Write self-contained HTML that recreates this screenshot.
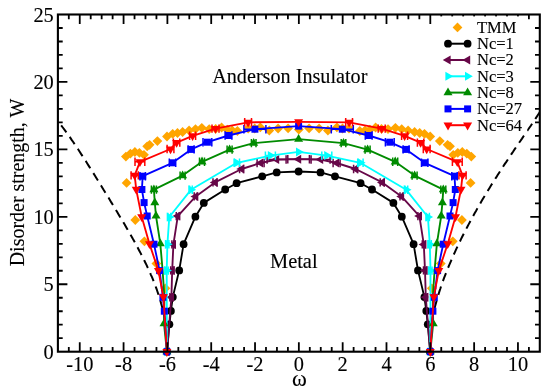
<!DOCTYPE html><html><head><meta charset="utf-8"><style>html,body{margin:0;padding:0;background:#fff;}svg{display:block}text{font-family:"Liberation Serif",serif;fill:#000;stroke:#000;stroke-width:0.12px}</style></head><body>
<svg width="550" height="392" viewBox="0 0 550 392">
<rect width="550" height="392" fill="#fff"/>
<defs><clipPath id="cp"><rect x="57.9" y="14.5" width="481.9" height="337.2"/></clipPath></defs>
<polyline points="61.0,125.1 62.8,127.5 64.6,129.9 66.4,132.3 68.1,134.8 69.9,137.2 71.5,139.6 73.2,142.0 74.8,144.4 76.5,146.8 78.1,149.2 79.7,151.7 81.2,154.1 82.8,156.5 84.3,158.9 85.9,161.3 87.4,163.7 88.9,166.1 90.5,168.6 92.0,171.0 93.5,173.4 95.0,175.8 96.5,178.2 98.0,180.6 99.5,183.1 101.0,185.5 102.5,187.9 103.9,190.3 105.4,192.7 106.9,195.1 108.4,197.5 109.9,200.0 111.3,202.4 112.8,204.8 114.3,207.2 115.7,209.6 117.2,212.0 118.6,214.4 120.1,216.9 121.5,219.3 123.0,221.7 124.4,224.1 125.8,226.5 127.2,228.9 128.6,231.3 130.0,233.8 131.4,236.2 132.7,238.6 134.1,241.0 135.4,243.4 136.7,245.8 138.0,248.2 139.3,250.7 140.6,253.1 141.8,255.5 143.0,257.9 144.2,260.3 145.4,262.7 146.6,265.1 147.7,267.6 148.8,270.0 149.9,272.4 150.9,274.8 152.0,277.2 153.0,279.6 153.9,282.0 154.9,284.5 155.8,286.9 156.7,289.3 157.5,291.7 158.3,294.1 159.1,296.5 159.9,299.0 160.6,301.4 161.2,303.8 161.9,306.2 162.5,308.6 163.1,311.0 163.6,313.4 164.1,315.9 164.5,318.3 165.0,320.7 165.4,323.1 165.7,325.5 166.0,327.9 166.3,330.3 166.6,332.8 166.8,335.2 167.0,337.6 167.1,340.0 167.4,351.7" fill="none" stroke="#000" stroke-width="2.0" stroke-dasharray="8.7,5.7" stroke-dashoffset="14.10" clip-path="url(#cp)"/>
<polyline points="544.4,105.0 542.8,107.6 541.1,110.2 539.4,112.8 537.7,115.3 536.0,117.9 534.3,120.5 532.5,123.1 530.8,125.7 529.0,128.3 527.3,130.8 525.5,133.4 523.7,136.0 522.0,138.6 520.2,141.2 518.4,143.8 516.7,146.3 514.9,148.9 513.2,151.5 511.4,154.1 509.7,156.7 508.0,159.3 506.3,161.9 504.5,164.4 502.8,167.0 501.2,169.6 499.5,172.2 497.8,174.8 496.2,177.4 494.5,179.9 492.9,182.5 491.3,185.1 489.7,187.7 488.1,190.3 486.5,192.9 485.0,195.4 483.4,198.0 481.9,200.6 480.4,203.2 478.9,205.8 477.4,208.4 476.0,211.0 474.5,213.5 473.1,216.1 471.7,218.7 470.3,221.3 468.9,223.9 467.5,226.5 466.2,229.0 464.8,231.6 463.5,234.2 462.2,236.8 460.9,239.4 459.7,242.0 458.4,244.6 457.2,247.1 456.0,249.7 454.8,252.3 453.6,254.9 452.5,257.5 451.4,260.1 450.3,262.6 449.2,265.2 448.1,267.8 447.0,270.4 446.0,273.0 445.0,275.6 444.0,278.1 443.1,280.7 442.1,283.3 441.2,285.9 440.4,288.5 439.5,291.1 438.7,293.7 437.9,296.2 437.1,298.8 436.4,301.4 435.7,304.0 435.0,306.6 434.4,309.2 433.8,311.7 433.2,314.3 432.7,316.9 432.3,319.5 431.8,322.1 431.4,324.7 431.1,327.2 430.8,329.8 430.6,332.4 430.4,335.0 430.3,351.7" fill="none" stroke="#000" stroke-width="2.0" stroke-dasharray="8.7,5.7" stroke-dashoffset="6.41" clip-path="url(#cp)"/>
<polygon points="165.4,283.4 170.3,288.3 165.4,293.2 160.5,288.3" fill="#ffa500"/>
<polygon points="156.4,258.7 161.3,263.6 156.4,268.5 151.5,263.6" fill="#ffa500"/>
<polygon points="144.4,236.4 149.3,241.3 144.4,246.2 139.5,241.3" fill="#ffa500"/>
<polygon points="135.3,215.1 140.2,220.0 135.3,224.9 130.4,220.0" fill="#ffa500"/>
<polygon points="126.6,178.0 131.5,182.9 126.6,187.8 121.7,182.9" fill="#ffa500"/>
<polygon points="125.9,151.7 130.8,156.6 125.9,161.5 121.0,156.6" fill="#ffa500"/>
<polygon points="130.4,148.7 135.3,153.6 130.4,158.5 125.5,153.6" fill="#ffa500"/>
<polygon points="134.9,147.1 139.8,152.0 134.9,156.9 130.0,152.0" fill="#ffa500"/>
<polygon points="139.4,147.9 144.3,152.8 139.4,157.7 134.5,152.8" fill="#ffa500"/>
<polygon points="144.0,149.9 148.9,154.8 144.0,159.7 139.1,154.8" fill="#ffa500"/>
<polygon points="147.2,141.4 152.1,146.3 147.2,151.2 142.3,146.3" fill="#ffa500"/>
<polygon points="149.6,139.9 154.5,144.8 149.6,149.7 144.7,144.8" fill="#ffa500"/>
<polygon points="157.4,136.2 162.3,141.1 157.4,146.0 152.5,141.1" fill="#ffa500"/>
<polygon points="167.0,131.6 171.9,136.5 167.0,141.4 162.1,136.5" fill="#ffa500"/>
<polygon points="172.7,128.9 177.6,133.8 172.7,138.7 167.8,133.8" fill="#ffa500"/>
<polygon points="177.5,128.1 182.4,133.0 177.5,137.9 172.6,133.0" fill="#ffa500"/>
<polygon points="182.6,127.1 187.5,132.0 182.6,136.9 177.7,132.0" fill="#ffa500"/>
<polygon points="189.1,125.5 194.0,130.4 189.1,135.3 184.2,130.4" fill="#ffa500"/>
<polygon points="195.5,124.2 200.4,129.1 195.5,134.0 190.6,129.1" fill="#ffa500"/>
<polygon points="201.8,122.9 206.7,127.8 201.8,132.7 196.9,127.8" fill="#ffa500"/>
<polygon points="209.2,124.2 214.1,129.1 209.2,134.0 204.3,129.1" fill="#ffa500"/>
<polygon points="215.7,123.9 220.6,128.8 215.7,133.7 210.8,128.8" fill="#ffa500"/>
<polygon points="221.6,122.6 226.5,127.5 221.6,132.4 216.7,127.5" fill="#ffa500"/>
<polygon points="227.3,124.8 232.2,129.7 227.3,134.6 222.4,129.7" fill="#ffa500"/>
<polygon points="232.2,125.5 237.1,130.4 232.2,135.3 227.3,130.4" fill="#ffa500"/>
<polygon points="237.4,126.1 242.3,131.0 237.4,135.9 232.5,131.0" fill="#ffa500"/>
<polygon points="248.2,123.6 253.1,128.5 248.2,133.4 243.3,128.5" fill="#ffa500"/>
<polygon points="254.7,123.6 259.6,128.5 254.7,133.4 249.8,128.5" fill="#ffa500"/>
<polygon points="260.3,122.4 265.2,127.3 260.3,132.2 255.4,127.3" fill="#ffa500"/>
<polygon points="269.3,125.6 274.2,130.5 269.3,135.4 264.4,130.5" fill="#ffa500"/>
<polygon points="278.1,123.6 283.0,128.5 278.1,133.4 273.2,128.5" fill="#ffa500"/>
<polygon points="288.1,123.4 293.0,128.3 288.1,133.2 283.2,128.3" fill="#ffa500"/>
<polygon points="298.8,124.6 303.7,129.5 298.8,134.4 293.9,129.5" fill="#ffa500"/>
<polygon points="309.1,123.4 314.0,128.3 309.1,133.2 304.2,128.3" fill="#ffa500"/>
<polygon points="319.1,123.6 324.0,128.5 319.1,133.4 314.2,128.5" fill="#ffa500"/>
<polygon points="327.9,125.6 332.8,130.5 327.9,135.4 323.0,130.5" fill="#ffa500"/>
<polygon points="336.9,122.4 341.8,127.3 336.9,132.2 332.0,127.3" fill="#ffa500"/>
<polygon points="342.5,123.6 347.4,128.5 342.5,133.4 337.6,128.5" fill="#ffa500"/>
<polygon points="349.0,123.6 353.9,128.5 349.0,133.4 344.1,128.5" fill="#ffa500"/>
<polygon points="359.8,126.1 364.7,131.0 359.8,135.9 354.9,131.0" fill="#ffa500"/>
<polygon points="365.0,125.5 369.9,130.4 365.0,135.3 360.1,130.4" fill="#ffa500"/>
<polygon points="369.9,124.8 374.8,129.7 369.9,134.6 365.0,129.7" fill="#ffa500"/>
<polygon points="375.6,122.6 380.5,127.5 375.6,132.4 370.7,127.5" fill="#ffa500"/>
<polygon points="381.5,123.9 386.4,128.8 381.5,133.7 376.6,128.8" fill="#ffa500"/>
<polygon points="388.0,124.2 392.9,129.1 388.0,134.0 383.1,129.1" fill="#ffa500"/>
<polygon points="395.4,122.9 400.3,127.8 395.4,132.7 390.5,127.8" fill="#ffa500"/>
<polygon points="401.7,124.2 406.6,129.1 401.7,134.0 396.8,129.1" fill="#ffa500"/>
<polygon points="408.1,125.5 413.0,130.4 408.1,135.3 403.2,130.4" fill="#ffa500"/>
<polygon points="414.6,127.1 419.5,132.0 414.6,136.9 409.7,132.0" fill="#ffa500"/>
<polygon points="419.7,128.1 424.6,133.0 419.7,137.9 414.8,133.0" fill="#ffa500"/>
<polygon points="424.5,128.9 429.4,133.8 424.5,138.7 419.6,133.8" fill="#ffa500"/>
<polygon points="430.2,131.6 435.1,136.5 430.2,141.4 425.3,136.5" fill="#ffa500"/>
<polygon points="439.8,136.2 444.7,141.1 439.8,146.0 434.9,141.1" fill="#ffa500"/>
<polygon points="447.6,139.9 452.5,144.8 447.6,149.7 442.7,144.8" fill="#ffa500"/>
<polygon points="450.0,141.4 454.9,146.3 450.0,151.2 445.1,146.3" fill="#ffa500"/>
<polygon points="453.2,149.9 458.1,154.8 453.2,159.7 448.3,154.8" fill="#ffa500"/>
<polygon points="457.8,147.9 462.7,152.8 457.8,157.7 452.9,152.8" fill="#ffa500"/>
<polygon points="462.3,147.1 467.2,152.0 462.3,156.9 457.4,152.0" fill="#ffa500"/>
<polygon points="466.8,148.7 471.7,153.6 466.8,158.5 461.9,153.6" fill="#ffa500"/>
<polygon points="471.3,151.7 476.2,156.6 471.3,161.5 466.4,156.6" fill="#ffa500"/>
<polygon points="470.6,178.0 475.5,182.9 470.6,187.8 465.7,182.9" fill="#ffa500"/>
<polygon points="461.9,215.1 466.8,220.0 461.9,224.9 457.0,220.0" fill="#ffa500"/>
<polygon points="452.8,236.4 457.7,241.3 452.8,246.2 447.9,241.3" fill="#ffa500"/>
<polygon points="440.8,258.7 445.7,263.6 440.8,268.5 435.9,263.6" fill="#ffa500"/>
<polygon points="431.8,283.4 436.7,288.3 431.8,293.2 426.9,288.3" fill="#ffa500"/>
<polyline points="167.0,351.7 169.4,324.3 170.9,310.9 172.8,297.1 179.2,270.4 183.6,244.2 195.4,216.7 203.8,202.9 225.2,189.5 236.6,183.2 262.2,176.3 276.7,172.4 298.6,171.5 320.5,172.4 335.0,176.3 360.6,183.2 372.0,189.5 393.4,202.9 401.8,216.7 413.6,244.2 418.0,270.4 424.4,297.1 426.3,310.9 427.8,324.3 430.2,351.7" fill="none" stroke="#000" stroke-width="1.85" stroke-linejoin="round"/>
<circle cx="167.0" cy="351.7" r="3.9" fill="#000"/>
<circle cx="169.4" cy="324.3" r="3.9" fill="#000"/>
<circle cx="170.9" cy="310.9" r="3.9" fill="#000"/>
<circle cx="172.8" cy="297.1" r="3.9" fill="#000"/>
<circle cx="179.2" cy="270.4" r="3.9" fill="#000"/>
<circle cx="183.6" cy="244.2" r="3.9" fill="#000"/>
<circle cx="195.4" cy="216.7" r="3.9" fill="#000"/>
<circle cx="203.8" cy="202.9" r="3.9" fill="#000"/>
<circle cx="225.2" cy="189.5" r="3.9" fill="#000"/>
<circle cx="236.6" cy="183.2" r="3.9" fill="#000"/>
<circle cx="262.2" cy="176.3" r="3.9" fill="#000"/>
<circle cx="276.7" cy="172.4" r="3.9" fill="#000"/>
<circle cx="298.6" cy="171.5" r="3.9" fill="#000"/>
<circle cx="320.5" cy="172.4" r="3.9" fill="#000"/>
<circle cx="335.0" cy="176.3" r="3.9" fill="#000"/>
<circle cx="360.6" cy="183.2" r="3.9" fill="#000"/>
<circle cx="372.0" cy="189.5" r="3.9" fill="#000"/>
<circle cx="393.4" cy="202.9" r="3.9" fill="#000"/>
<circle cx="401.8" cy="216.7" r="3.9" fill="#000"/>
<circle cx="413.6" cy="244.2" r="3.9" fill="#000"/>
<circle cx="418.0" cy="270.4" r="3.9" fill="#000"/>
<circle cx="424.4" cy="297.1" r="3.9" fill="#000"/>
<circle cx="426.3" cy="310.9" r="3.9" fill="#000"/>
<circle cx="427.8" cy="324.3" r="3.9" fill="#000"/>
<circle cx="430.2" cy="351.7" r="3.9" fill="#000"/>
<polyline points="167.0,351.7 171.4,297.3 172.2,270.4 173.4,244.4 177.8,216.1 195.7,196.4 215.0,182.4 241.6,169.0 260.6,163.0 276.6,159.5 298.6,159.2 320.6,159.5 336.6,163.0 355.6,169.0 382.2,182.4 401.5,196.4 419.4,216.1 423.8,244.4 425.0,270.4 425.8,297.3 430.2,351.7" fill="none" stroke="#670748" stroke-width="1.85" stroke-linejoin="round"/>
<path d="M169.9 297.3H172.9M169.9 293.1v8.4M172.9 293.1v8.4M170.7 270.4H173.7M170.7 266.2v8.4M173.7 266.2v8.4M171.9 244.4H174.9M171.9 240.2v8.4M174.9 240.2v8.4M176.3 216.1H179.3M176.3 211.9v8.4M179.3 211.9v8.4M194.2 196.4H197.2M194.2 192.2v8.4M197.2 192.2v8.4M213.0 182.4H217.0M213.0 178.2v8.4M217.0 178.2v8.4M239.6 169.0H243.6M239.6 164.8v8.4M243.6 164.8v8.4M257.1 163.0H264.1M257.1 158.8v8.4M264.1 158.8v8.4M267.1 159.5H286.1M267.1 155.3v8.4M286.1 155.3v8.4M287.8 159.2H309.4M287.8 155.0v8.4M309.4 155.0v8.4M311.1 159.5H330.1M311.1 155.3v8.4M330.1 155.3v8.4M333.1 163.0H340.1M333.1 158.8v8.4M340.1 158.8v8.4M353.6 169.0H357.6M353.6 164.8v8.4M357.6 164.8v8.4M380.2 182.4H384.2M380.2 178.2v8.4M384.2 178.2v8.4M400.0 196.4H403.0M400.0 192.2v8.4M403.0 192.2v8.4M417.9 216.1H420.9M417.9 211.9v8.4M420.9 211.9v8.4M422.3 244.4H425.3M422.3 240.2v8.4M425.3 240.2v8.4M423.5 270.4H426.5M423.5 266.2v8.4M426.5 266.2v8.4M424.3 297.3H427.3M424.3 293.1v8.4M427.3 293.1v8.4" stroke="#670748" stroke-width="1.5" fill="none"/>
<polygon points="161.8,351.7 169.6,347.2 169.6,356.2" fill="#670748"/>
<polygon points="166.2,297.3 174.0,292.8 174.0,301.8" fill="#670748"/>
<polygon points="167.0,270.4 174.8,265.9 174.8,274.9" fill="#670748"/>
<polygon points="168.2,244.4 176.0,239.9 176.0,248.9" fill="#670748"/>
<polygon points="172.6,216.1 180.4,211.6 180.4,220.6" fill="#670748"/>
<polygon points="190.5,196.4 198.3,191.9 198.3,200.9" fill="#670748"/>
<polygon points="209.8,182.4 217.6,177.9 217.6,186.9" fill="#670748"/>
<polygon points="236.4,169.0 244.2,164.5 244.2,173.5" fill="#670748"/>
<polygon points="255.4,163.0 263.2,158.5 263.2,167.5" fill="#670748"/>
<polygon points="271.4,159.5 279.2,155.0 279.2,164.0" fill="#670748"/>
<polygon points="293.4,159.2 301.2,154.7 301.2,163.7" fill="#670748"/>
<polygon points="315.4,159.5 323.2,155.0 323.2,164.0" fill="#670748"/>
<polygon points="331.4,163.0 339.2,158.5 339.2,167.5" fill="#670748"/>
<polygon points="350.4,169.0 358.2,164.5 358.2,173.5" fill="#670748"/>
<polygon points="377.0,182.4 384.8,177.9 384.8,186.9" fill="#670748"/>
<polygon points="396.3,196.4 404.1,191.9 404.1,200.9" fill="#670748"/>
<polygon points="414.2,216.1 422.0,211.6 422.0,220.6" fill="#670748"/>
<polygon points="418.6,244.4 426.4,239.9 426.4,248.9" fill="#670748"/>
<polygon points="419.8,270.4 427.6,265.9 427.6,274.9" fill="#670748"/>
<polygon points="420.6,297.3 428.4,292.8 428.4,301.8" fill="#670748"/>
<polygon points="425.0,351.7 432.8,347.2 432.8,356.2" fill="#670748"/>
<polyline points="166.9,351.7 166.7,270.6 167.4,244.2 169.3,217.0 190.9,189.8 236.8,162.8 270.4,155.6 298.6,151.9 326.8,155.6 360.4,162.8 406.3,189.8 427.9,217.0 429.8,244.2 430.5,270.6 430.3,351.7" fill="none" stroke="#00ffff" stroke-width="1.85" stroke-linejoin="round"/>
<path d="M165.2 270.6H168.2M165.2 266.4v8.4M168.2 266.4v8.4M165.9 244.2H168.9M165.9 240.0v8.4M168.9 240.0v8.4M167.8 217.0H170.8M167.8 212.8v8.4M170.8 212.8v8.4M189.5 189.8H192.3M189.5 185.6v8.4M192.3 185.6v8.4M234.1 162.8H239.5M234.1 158.6v8.4M239.5 158.6v8.4M265.4 155.6H275.4M265.4 151.4v8.4M275.4 151.4v8.4M321.8 155.6H331.8M321.8 151.4v8.4M331.8 151.4v8.4M357.7 162.8H363.1M357.7 158.6v8.4M363.1 158.6v8.4M404.9 189.8H407.7M404.9 185.6v8.4M407.7 185.6v8.4M426.4 217.0H429.4M426.4 212.8v8.4M429.4 212.8v8.4M428.3 244.2H431.3M428.3 240.0v8.4M431.3 240.0v8.4M429.0 270.6H432.0M429.0 266.4v8.4M432.0 266.4v8.4" stroke="#00ffff" stroke-width="1.5" fill="none"/>
<polygon points="172.1,351.7 164.3,347.2 164.3,356.2" fill="#00ffff"/>
<polygon points="171.9,270.6 164.1,266.1 164.1,275.1" fill="#00ffff"/>
<polygon points="172.6,244.2 164.8,239.7 164.8,248.7" fill="#00ffff"/>
<polygon points="174.5,217.0 166.7,212.5 166.7,221.5" fill="#00ffff"/>
<polygon points="196.1,189.8 188.3,185.3 188.3,194.3" fill="#00ffff"/>
<polygon points="242.0,162.8 234.2,158.3 234.2,167.3" fill="#00ffff"/>
<polygon points="275.6,155.6 267.8,151.1 267.8,160.1" fill="#00ffff"/>
<polygon points="303.8,151.9 296.0,147.4 296.0,156.4" fill="#00ffff"/>
<polygon points="332.0,155.6 324.2,151.1 324.2,160.1" fill="#00ffff"/>
<polygon points="365.6,162.8 357.8,158.3 357.8,167.3" fill="#00ffff"/>
<polygon points="411.5,189.8 403.7,185.3 403.7,194.3" fill="#00ffff"/>
<polygon points="433.1,217.0 425.3,212.5 425.3,221.5" fill="#00ffff"/>
<polygon points="435.0,244.2 427.2,239.7 427.2,248.7" fill="#00ffff"/>
<polygon points="435.7,270.6 427.9,266.1 427.9,275.1" fill="#00ffff"/>
<polygon points="435.5,351.7 427.7,347.2 427.7,356.2" fill="#00ffff"/>
<polyline points="166.9,351.7 164.0,323.6 164.4,297.0 162.6,270.2 160.3,243.6 156.0,216.0 154.8,202.6 153.9,189.6 182.6,175.6 202.0,161.8 229.6,149.6 253.7,143.1 298.6,139.1 343.5,143.1 367.6,149.6 395.2,161.8 414.6,175.6 443.3,189.6 442.4,202.6 441.2,216.0 436.9,243.6 434.6,270.2 432.8,297.0 433.2,323.6 430.3,351.7" fill="none" stroke="#008b00" stroke-width="1.85" stroke-linejoin="round"/>
<path d="M151.4 189.6H156.4M151.4 185.4v8.4M156.4 185.4v8.4M180.1 175.6H185.1M180.1 171.4v8.4M185.1 171.4v8.4M199.5 161.8H204.5M199.5 157.6v8.4M204.5 157.6v8.4M227.1 149.6H232.1M227.1 145.4v8.4M232.1 145.4v8.4M251.4 143.1H256.0M251.4 138.9v8.4M256.0 138.9v8.4M341.2 143.1H345.8M341.2 138.9v8.4M345.8 138.9v8.4M365.1 149.6H370.1M365.1 145.4v8.4M370.1 145.4v8.4M392.7 161.8H397.7M392.7 157.6v8.4M397.7 157.6v8.4M412.1 175.6H417.1M412.1 171.4v8.4M417.1 171.4v8.4M440.8 189.6H445.8M440.8 185.4v8.4M445.8 185.4v8.4" stroke="#008b00" stroke-width="1.5" fill="none"/>
<polygon points="166.9,346.5 162.4,354.3 171.4,354.3" fill="#008b00"/>
<polygon points="164.0,318.4 159.5,326.2 168.5,326.2" fill="#008b00"/>
<polygon points="160.3,238.4 155.8,246.2 164.8,246.2" fill="#008b00"/>
<polygon points="156.0,210.8 151.5,218.6 160.5,218.6" fill="#008b00"/>
<polygon points="154.8,197.4 150.3,205.2 159.3,205.2" fill="#008b00"/>
<polygon points="153.9,184.4 149.4,192.2 158.4,192.2" fill="#008b00"/>
<polygon points="182.6,170.4 178.1,178.2 187.1,178.2" fill="#008b00"/>
<polygon points="202.0,156.6 197.5,164.4 206.5,164.4" fill="#008b00"/>
<polygon points="229.6,144.4 225.1,152.2 234.1,152.2" fill="#008b00"/>
<polygon points="253.7,137.9 249.2,145.7 258.2,145.7" fill="#008b00"/>
<polygon points="298.6,133.9 294.1,141.7 303.1,141.7" fill="#008b00"/>
<polygon points="343.5,137.9 339.0,145.7 348.0,145.7" fill="#008b00"/>
<polygon points="367.6,144.4 363.1,152.2 372.1,152.2" fill="#008b00"/>
<polygon points="395.2,156.6 390.7,164.4 399.7,164.4" fill="#008b00"/>
<polygon points="414.6,170.4 410.1,178.2 419.1,178.2" fill="#008b00"/>
<polygon points="443.3,184.4 438.8,192.2 447.8,192.2" fill="#008b00"/>
<polygon points="442.4,197.4 437.9,205.2 446.9,205.2" fill="#008b00"/>
<polygon points="441.2,210.8 436.7,218.6 445.7,218.6" fill="#008b00"/>
<polygon points="436.9,238.4 432.4,246.2 441.4,246.2" fill="#008b00"/>
<polygon points="433.2,318.4 428.7,326.2 437.7,326.2" fill="#008b00"/>
<polygon points="430.3,346.5 425.8,354.3 434.8,354.3" fill="#008b00"/>
<polyline points="166.9,351.7 164.3,311.2 162.9,297.3 159.6,270.6 154.0,244.2 147.2,216.0 144.1,202.6 141.9,189.5 142.7,176.2 172.5,162.8 191.1,149.4 207.4,142.2 228.5,135.5 254.9,129.2 298.6,126.1 342.3,129.2 368.7,135.5 389.8,142.2 406.1,149.4 424.7,162.8 454.5,176.2 455.3,189.5 453.1,202.6 450.0,216.0 443.2,244.2 437.6,270.6 434.3,297.3 432.9,311.2 430.3,351.7" fill="none" stroke="#0000ff" stroke-width="1.85" stroke-linejoin="round"/>
<path d="M140.0 176.2H145.4M140.0 172.0v8.4M145.4 172.0v8.4M169.3 162.8H175.7M169.3 158.6v8.4M175.7 158.6v8.4M188.1 149.4H194.1M188.1 145.2v8.4M194.1 145.2v8.4M203.0 142.2H211.8M203.0 138.0v8.4M211.8 138.0v8.4M225.1 135.5H231.9M225.1 131.3v8.4M231.9 131.3v8.4M243.9 129.2H265.9M243.9 125.0v8.4M265.9 125.0v8.4M331.3 129.2H353.3M331.3 125.0v8.4M353.3 125.0v8.4M365.3 135.5H372.1M365.3 131.3v8.4M372.1 131.3v8.4M385.4 142.2H394.2M385.4 138.0v8.4M394.2 138.0v8.4M403.1 149.4H409.1M403.1 145.2v8.4M409.1 145.2v8.4M421.5 162.8H427.9M421.5 158.6v8.4M427.9 158.6v8.4M451.8 176.2H457.2M451.8 172.0v8.4M457.2 172.0v8.4" stroke="#0000ff" stroke-width="1.5" fill="none"/>
<rect x="163.4" y="348.2" width="7" height="7" fill="#0000ff"/>
<rect x="160.8" y="307.7" width="7" height="7" fill="#0000ff"/>
<rect x="159.4" y="293.8" width="7" height="7" fill="#0000ff"/>
<rect x="156.1" y="267.1" width="7" height="7" fill="#0000ff"/>
<rect x="150.5" y="240.7" width="7" height="7" fill="#0000ff"/>
<rect x="143.7" y="212.5" width="7" height="7" fill="#0000ff"/>
<rect x="140.6" y="199.1" width="7" height="7" fill="#0000ff"/>
<rect x="138.4" y="186.0" width="7" height="7" fill="#0000ff"/>
<rect x="139.2" y="172.7" width="7" height="7" fill="#0000ff"/>
<rect x="169.0" y="159.3" width="7" height="7" fill="#0000ff"/>
<rect x="187.6" y="145.9" width="7" height="7" fill="#0000ff"/>
<rect x="203.9" y="138.7" width="7" height="7" fill="#0000ff"/>
<rect x="225.0" y="132.0" width="7" height="7" fill="#0000ff"/>
<rect x="251.4" y="125.7" width="7" height="7" fill="#0000ff"/>
<rect x="295.1" y="122.6" width="7" height="7" fill="#0000ff"/>
<rect x="338.8" y="125.7" width="7" height="7" fill="#0000ff"/>
<rect x="365.2" y="132.0" width="7" height="7" fill="#0000ff"/>
<rect x="386.3" y="138.7" width="7" height="7" fill="#0000ff"/>
<rect x="402.6" y="145.9" width="7" height="7" fill="#0000ff"/>
<rect x="421.2" y="159.3" width="7" height="7" fill="#0000ff"/>
<rect x="451.0" y="172.7" width="7" height="7" fill="#0000ff"/>
<rect x="451.8" y="186.0" width="7" height="7" fill="#0000ff"/>
<rect x="449.6" y="199.1" width="7" height="7" fill="#0000ff"/>
<rect x="446.5" y="212.5" width="7" height="7" fill="#0000ff"/>
<rect x="439.7" y="240.7" width="7" height="7" fill="#0000ff"/>
<rect x="434.1" y="267.1" width="7" height="7" fill="#0000ff"/>
<rect x="430.8" y="293.8" width="7" height="7" fill="#0000ff"/>
<rect x="429.4" y="307.7" width="7" height="7" fill="#0000ff"/>
<rect x="426.8" y="348.2" width="7" height="7" fill="#0000ff"/>
<polyline points="166.9,351.7 163.4,296.8 158.4,270.6 149.5,243.9 141.7,216.8 136.2,189.4 134.7,175.4 139.9,161.8 170.5,149.0 176.6,142.6 192.6,135.8 215.5,128.6 248.1,122.3 298.6,121.8 349.1,122.3 381.7,128.6 404.6,135.8 420.6,142.6 426.7,149.0 457.3,161.8 462.5,175.4 461.0,189.4 455.5,216.8 447.7,243.9 438.8,270.6 433.8,296.8 430.3,351.7" fill="none" stroke="#ff0000" stroke-width="1.85" stroke-linejoin="round"/>
<path d="M131.1 175.4H138.3M131.1 171.2v8.4M138.3 171.2v8.4M135.0 161.8H144.8M135.0 157.6v8.4M144.8 157.6v8.4M167.1 149.0H173.9M167.1 144.8v8.4M173.9 144.8v8.4M173.4 142.6H179.8M173.4 138.4v8.4M179.8 138.4v8.4M189.6 135.8H195.6M189.6 131.6v8.4M195.6 131.6v8.4M212.0 128.6H219.0M212.0 124.4v8.4M219.0 124.4v8.4M244.7 122.3H251.5M244.7 118.1v8.4M251.5 118.1v8.4M345.7 122.3H352.5M345.7 118.1v8.4M352.5 118.1v8.4M378.2 128.6H385.2M378.2 124.4v8.4M385.2 124.4v8.4M401.6 135.8H407.6M401.6 131.6v8.4M407.6 131.6v8.4M417.4 142.6H423.8M417.4 138.4v8.4M423.8 138.4v8.4M423.3 149.0H430.1M423.3 144.8v8.4M430.1 144.8v8.4M452.4 161.8H462.2M452.4 157.6v8.4M462.2 157.6v8.4M458.9 175.4H466.1M458.9 171.2v8.4M466.1 171.2v8.4" stroke="#ff0000" stroke-width="1.5" fill="none"/>
<polygon points="166.9,356.9 162.4,349.1 171.4,349.1" fill="#ff0000"/>
<polygon points="163.4,302.0 158.9,294.2 167.9,294.2" fill="#ff0000"/>
<polygon points="158.4,275.8 153.9,268.0 162.9,268.0" fill="#ff0000"/>
<polygon points="149.5,249.1 145.0,241.3 154.0,241.3" fill="#ff0000"/>
<polygon points="141.7,222.0 137.2,214.2 146.2,214.2" fill="#ff0000"/>
<polygon points="136.2,194.6 131.7,186.8 140.7,186.8" fill="#ff0000"/>
<polygon points="134.7,180.6 130.2,172.8 139.2,172.8" fill="#ff0000"/>
<polygon points="139.9,167.0 135.4,159.2 144.4,159.2" fill="#ff0000"/>
<polygon points="170.5,154.2 166.0,146.4 175.0,146.4" fill="#ff0000"/>
<polygon points="176.6,147.8 172.1,140.0 181.1,140.0" fill="#ff0000"/>
<polygon points="192.6,141.0 188.1,133.2 197.1,133.2" fill="#ff0000"/>
<polygon points="215.5,133.8 211.0,126.0 220.0,126.0" fill="#ff0000"/>
<polygon points="248.1,127.5 243.6,119.7 252.6,119.7" fill="#ff0000"/>
<polygon points="298.6,127.0 294.1,119.2 303.1,119.2" fill="#ff0000"/>
<polygon points="349.1,127.5 344.6,119.7 353.6,119.7" fill="#ff0000"/>
<polygon points="381.7,133.8 377.2,126.0 386.2,126.0" fill="#ff0000"/>
<polygon points="404.6,141.0 400.1,133.2 409.1,133.2" fill="#ff0000"/>
<polygon points="420.6,147.8 416.1,140.0 425.1,140.0" fill="#ff0000"/>
<polygon points="426.7,154.2 422.2,146.4 431.2,146.4" fill="#ff0000"/>
<polygon points="457.3,167.0 452.8,159.2 461.8,159.2" fill="#ff0000"/>
<polygon points="462.5,180.6 458.0,172.8 467.0,172.8" fill="#ff0000"/>
<polygon points="461.0,194.6 456.5,186.8 465.5,186.8" fill="#ff0000"/>
<polygon points="455.5,222.0 451.0,214.2 460.0,214.2" fill="#ff0000"/>
<polygon points="447.7,249.1 443.2,241.3 452.2,241.3" fill="#ff0000"/>
<polygon points="438.8,275.8 434.3,268.0 443.3,268.0" fill="#ff0000"/>
<polygon points="433.8,302.0 429.3,294.2 438.3,294.2" fill="#ff0000"/>
<polygon points="430.3,356.9 425.8,349.1 434.8,349.1" fill="#ff0000"/>
<rect x="57.9" y="14.5" width="481.9" height="337.2" fill="none" stroke="#000" stroke-width="2.1"/>
<path d="M68.80 351.7v-4.8M68.80 14.5v4.8M79.75 351.7v-9.5M79.75 14.5v9.5M90.71 351.7v-4.8M90.71 14.5v4.8M101.66 351.7v-4.8M101.66 14.5v4.8M112.62 351.7v-4.8M112.62 14.5v4.8M123.57 351.7v-9.5M123.57 14.5v9.5M134.53 351.7v-4.8M134.53 14.5v4.8M145.48 351.7v-4.8M145.48 14.5v4.8M156.44 351.7v-4.8M156.44 14.5v4.8M167.39 351.7v-9.5M167.39 14.5v9.5M178.35 351.7v-4.8M178.35 14.5v4.8M189.30 351.7v-4.8M189.30 14.5v4.8M200.26 351.7v-4.8M200.26 14.5v4.8M211.21 351.7v-9.5M211.21 14.5v9.5M222.17 351.7v-4.8M222.17 14.5v4.8M233.12 351.7v-4.8M233.12 14.5v4.8M244.08 351.7v-4.8M244.08 14.5v4.8M255.03 351.7v-9.5M255.03 14.5v9.5M265.99 351.7v-4.8M265.99 14.5v4.8M276.94 351.7v-4.8M276.94 14.5v4.8M287.90 351.7v-4.8M287.90 14.5v4.8M298.85 351.7v-9.5M298.85 14.5v9.5M309.81 351.7v-4.8M309.81 14.5v4.8M320.76 351.7v-4.8M320.76 14.5v4.8M331.72 351.7v-4.8M331.72 14.5v4.8M342.67 351.7v-9.5M342.67 14.5v9.5M353.62 351.7v-4.8M353.62 14.5v4.8M364.58 351.7v-4.8M364.58 14.5v4.8M375.54 351.7v-4.8M375.54 14.5v4.8M386.49 351.7v-9.5M386.49 14.5v9.5M397.45 351.7v-4.8M397.45 14.5v4.8M408.40 351.7v-4.8M408.40 14.5v4.8M419.36 351.7v-4.8M419.36 14.5v4.8M430.31 351.7v-9.5M430.31 14.5v9.5M441.26 351.7v-4.8M441.26 14.5v4.8M452.22 351.7v-4.8M452.22 14.5v4.8M463.18 351.7v-4.8M463.18 14.5v4.8M474.13 351.7v-9.5M474.13 14.5v9.5M485.09 351.7v-4.8M485.09 14.5v4.8M496.04 351.7v-4.8M496.04 14.5v4.8M507.00 351.7v-4.8M507.00 14.5v4.8M517.95 351.7v-9.5M517.95 14.5v9.5M528.90 351.7v-4.8M528.90 14.5v4.8M57.9 338.21h4.8M539.8 338.21h-4.8M57.9 324.72h4.8M539.8 324.72h-4.8M57.9 311.24h4.8M539.8 311.24h-4.8M57.9 297.75h4.8M539.8 297.75h-4.8M57.9 284.26h9.5M539.8 284.26h-9.5M57.9 270.77h4.8M539.8 270.77h-4.8M57.9 257.28h4.8M539.8 257.28h-4.8M57.9 243.80h4.8M539.8 243.80h-4.8M57.9 230.31h4.8M539.8 230.31h-4.8M57.9 216.82h9.5M539.8 216.82h-9.5M57.9 203.33h4.8M539.8 203.33h-4.8M57.9 189.84h4.8M539.8 189.84h-4.8M57.9 176.36h4.8M539.8 176.36h-4.8M57.9 162.87h4.8M539.8 162.87h-4.8M57.9 149.38h9.5M539.8 149.38h-9.5M57.9 135.89h4.8M539.8 135.89h-4.8M57.9 122.40h4.8M539.8 122.40h-4.8M57.9 108.92h4.8M539.8 108.92h-4.8M57.9 95.43h4.8M539.8 95.43h-4.8M57.9 81.94h9.5M539.8 81.94h-9.5M57.9 68.45h4.8M539.8 68.45h-4.8M57.9 54.96h4.8M539.8 54.96h-4.8M57.9 41.48h4.8M539.8 41.48h-4.8M57.9 27.99h4.8M539.8 27.99h-4.8" stroke="#000" stroke-width="1.8" fill="none"/>
<text x="53.8" y="358.7" font-size="20.4" text-anchor="end">0</text>
<text x="53.8" y="291.3" font-size="20.4" text-anchor="end">5</text>
<text x="53.8" y="223.8" font-size="20.4" text-anchor="end">10</text>
<text x="53.8" y="156.4" font-size="20.4" text-anchor="end">15</text>
<text x="53.8" y="88.9" font-size="20.4" text-anchor="end">20</text>
<text x="53.8" y="21.5" font-size="20.4" text-anchor="end">25</text>
<text x="79.8" y="371" font-size="20.4" text-anchor="middle">-10</text>
<text x="123.6" y="371" font-size="20.4" text-anchor="middle">-8</text>
<text x="167.4" y="371" font-size="20.4" text-anchor="middle">-6</text>
<text x="211.2" y="371" font-size="20.4" text-anchor="middle">-4</text>
<text x="255.0" y="371" font-size="20.4" text-anchor="middle">-2</text>
<text x="298.9" y="371" font-size="20.4" text-anchor="middle">0</text>
<text x="342.7" y="371" font-size="20.4" text-anchor="middle">2</text>
<text x="386.5" y="371" font-size="20.4" text-anchor="middle">4</text>
<text x="430.3" y="371" font-size="20.4" text-anchor="middle">6</text>
<text x="474.1" y="371" font-size="20.4" text-anchor="middle">8</text>
<text x="518.0" y="371" font-size="20.4" text-anchor="middle">10</text>
<text x="299.4" y="386" font-size="22.5" text-anchor="middle">ω</text>
<text transform="translate(24.4,182.5) rotate(-90)" font-size="20.4" text-anchor="middle" textLength="167.6" lengthAdjust="spacingAndGlyphs">Disorder strength, W</text>
<text x="212.2" y="82.9" font-size="20.4" textLength="155.2" lengthAdjust="spacingAndGlyphs">Anderson Insulator</text>
<text x="270.0" y="268.2" font-size="20.4">Metal</text>
<rect x="432" y="16.4" width="95.2" height="115.6" fill="#fff"/>
<polygon points="457.5,22.5 462.4,27.4 457.5,32.3 452.6,27.4" fill="#ffa500"/>
<text x="477" y="32.7" font-size="16.5">TMM</text>
<line x1="448" y1="43.7" x2="467.6" y2="43.7" stroke="#000" stroke-width="2"/>
<circle cx="448.0" cy="43.7" r="3.9" fill="#000"/>
<circle cx="467.6" cy="43.7" r="3.9" fill="#000"/>
<text x="477" y="49.0" font-size="16.5">Nc=1</text>
<line x1="448" y1="60.0" x2="467.6" y2="60.0" stroke="#670748" stroke-width="2"/>
<polygon points="442.8,60.0 450.6,55.5 450.6,64.5" fill="#670748"/>
<polygon points="462.4,60.0 470.2,55.5 470.2,64.5" fill="#670748"/>
<text x="477" y="65.3" font-size="16.5">Nc=2</text>
<line x1="448" y1="76.3" x2="467.6" y2="76.3" stroke="#00ffff" stroke-width="2"/>
<polygon points="453.2,76.3 445.4,71.8 445.4,80.8" fill="#00ffff"/>
<polygon points="472.8,76.3 465.0,71.8 465.0,80.8" fill="#00ffff"/>
<text x="477" y="81.6" font-size="16.5">Nc=3</text>
<line x1="448" y1="92.6" x2="467.6" y2="92.6" stroke="#008b00" stroke-width="2"/>
<polygon points="448.0,87.4 443.5,95.2 452.5,95.2" fill="#008b00"/>
<polygon points="467.6,87.4 463.1,95.2 472.1,95.2" fill="#008b00"/>
<text x="477" y="97.9" font-size="16.5">Nc=8</text>
<line x1="448" y1="108.9" x2="467.6" y2="108.9" stroke="#0000ff" stroke-width="2"/>
<rect x="444.5" y="105.4" width="7" height="7" fill="#0000ff"/>
<rect x="464.1" y="105.4" width="7" height="7" fill="#0000ff"/>
<text x="477" y="114.2" font-size="16.5">Nc=27</text>
<line x1="448" y1="125.2" x2="467.6" y2="125.2" stroke="#ff0000" stroke-width="2"/>
<polygon points="448.0,130.4 443.5,122.6 452.5,122.6" fill="#ff0000"/>
<polygon points="467.6,130.4 463.1,122.6 472.1,122.6" fill="#ff0000"/>
<text x="477" y="130.5" font-size="16.5">Nc=64</text>
</svg></body></html>
